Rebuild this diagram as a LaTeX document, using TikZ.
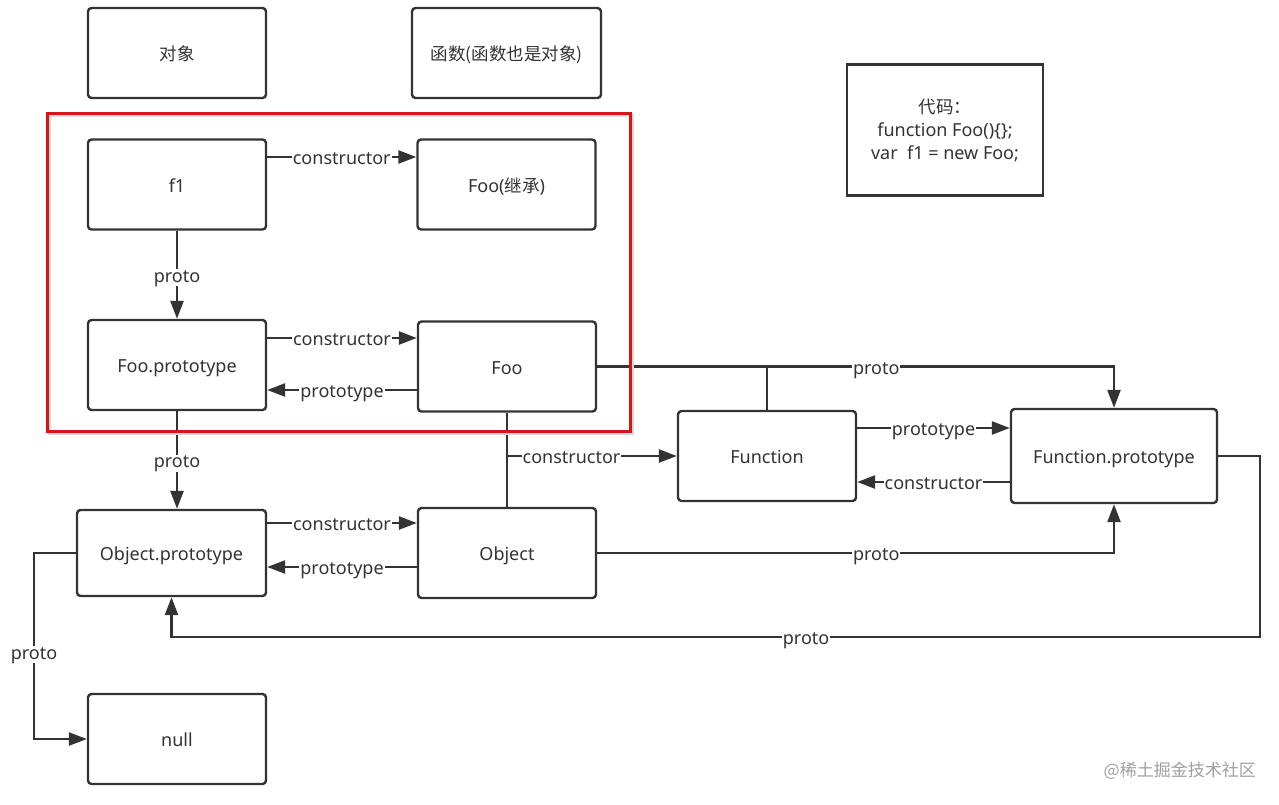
\documentclass[tikz,border=0pt]{standalone}
\usepackage{fontspec}
\setmainfont{Noto Sans}
\newfontfamily\cjkfam{Noto Sans CJK SC}
\usetikzlibrary{arrows.meta,calc}
\definecolor{lc}{HTML}{333333}
\definecolor{rd}{HTML}{D81414}
\definecolor{wm}{HTML}{A0A0A0}
\newcommand\fs{\fontsize{18}{23}\selectfont}
\newcommand\cj{\cjkfam\fontsize{17.5}{23}\selectfont}
\begin{document}
\begin{tikzpicture}[x=1pt,y=-1pt,
  box/.style={draw=lc, line width=2.4pt, rounded corners=3.5pt, inner sep=0pt, text=lc, font=\fs,
              minimum width=178pt, minimum height=90pt, text height=18pt, text depth=3pt},
  sq/.style={draw=lc, line width=2.4pt, inner sep=0pt, text=lc, font=\fs, align=center},
  arr/.style={draw=lc, line width=2.5pt, -{Triangle[length=18pt,width=13pt]}},
  ln/.style={draw=lc, line width=2.5pt},
  lbl/.style={fill=white, inner sep=1pt, text=lc, font=\fs, text height=12pt, text depth=3pt, yshift=-3pt}]
\useasboundingbox (0,0) rectangle (1279,804);
\fill[white] (0,0) rectangle (1279,804);

% legend boxes
\node[box] (obj) at (177,53) {\cj 对象};
\node[box, minimum width=189pt] (fun) at (506.5,53) {\cj 函数(函数也是对象)};
\node[sq, minimum width=196pt, minimum height=131pt] (code) at (945,130)
  {{\cj 代码：}\\function Foo()\{\};\\var\ \ f1 = new Foo;};

% main nodes
\node[box] (f1) at (177,184.5) {f1};
\node[box] (fooI) at (506.5,184.5) {Foo({\cj 继承})};
\node[box] (foop) at (177,365) {Foo.prototype};
\node[box] (foo) at (507,366.5) {Foo};
\node[box] (func) at (767,456) {Function};
\node[box, minimum width=206pt, minimum height=94pt] (funp) at (1114,456) {Function.prototype};
\node[box, minimum width=189pt, minimum height=86pt] (objp) at (171.5,553) {Object.prototype};
\node[box] (object) at (507,553) {Object};
\node[box] (null) at (177,739) {null};

% f1 relations
\draw[arr] ([yshift=27.5pt]f1.east) -- node[lbl]{constructor} ([yshift=27.5pt]fooI.west);
\draw[arr] (f1.south) -- node[lbl]{proto} (foop.north);

% Foo.prototype <-> Foo
\draw[arr] ([yshift=27pt]foop.east) -- node[lbl]{constructor} ([yshift=27pt]foop.east -| foo.west);
\draw[arr] ([yshift=-23.5pt]foo.west) -- node[lbl]{prototype} ([yshift=-23.5pt]foo.west -| foop.east);
\draw[arr] (foop.south) -- node[lbl]{proto} (foop.south |- objp.north);

% Foo / Function proto -> Function.prototype
\coordinate (j1) at (foo.east -| func.north);
\draw[arr] (foo.east) -- node[lbl, pos=0.54]{proto} (foo.east -| funp.north) -- (funp.north);
\draw[ln] (func.north) -- (j1);

% Foo / Object constructor -> Function
\coordinate (j2) at (foo.south |- func.west);
\draw[ln] (foo.south) -- (foo.south |- object.north);
\draw[arr] (j2) -- node[lbl, pos=0.38]{constructor} (func.west);

% Function <-> Function.prototype
\draw[arr] ([yshift=28pt]func.east) -- node[lbl]{prototype} ([yshift=28pt]func.east -| funp.west);
\draw[arr] ([yshift=-26pt]funp.west) -- node[lbl]{constructor} ([yshift=-26pt]funp.west -| func.east);

% Object.prototype <-> Object
\draw[arr] ([yshift=30pt]objp.east) -- node[lbl]{constructor} ([yshift=30pt]objp.east -| object.west);
\draw[arr] ([yshift=-14pt]object.west) -- node[lbl]{prototype} ([yshift=-14pt]object.west -| objp.east);

% Object proto -> Function.prototype
\draw[arr] (object.east) -- node[lbl, pos=0.54]{proto} (object.east -| funp.south) -- (funp.south);

% Function.prototype proto -> Object.prototype
\coordinate (c1) at (1260,637);
\draw[arr] (funp.east) -| (c1) -- node[lbl, pos=0.417]{proto} (c1 -| objp.south) -- (objp.south);

% Object.prototype proto -> null
\coordinate (c2) at (34,553);
\draw[arr] (objp.west) -- (c2) -- node[lbl, pos=0.53]{proto} (c2 |- null.west) -- (null.west);

% red highlight frame
\draw[black!15, line width=3pt] (49.5,115.5) rectangle (632.5,433.5);
\draw[rd, line width=3pt] (47,113) rectangle (630,431);

% watermark
\node[text=wm, inner sep=0pt, font=\cjkfam\fontsize{17}{20}\selectfont, anchor=east] (wmk) at (1256,771) {@稀土掘金技术社区};
\end{tikzpicture}
\end{document}
